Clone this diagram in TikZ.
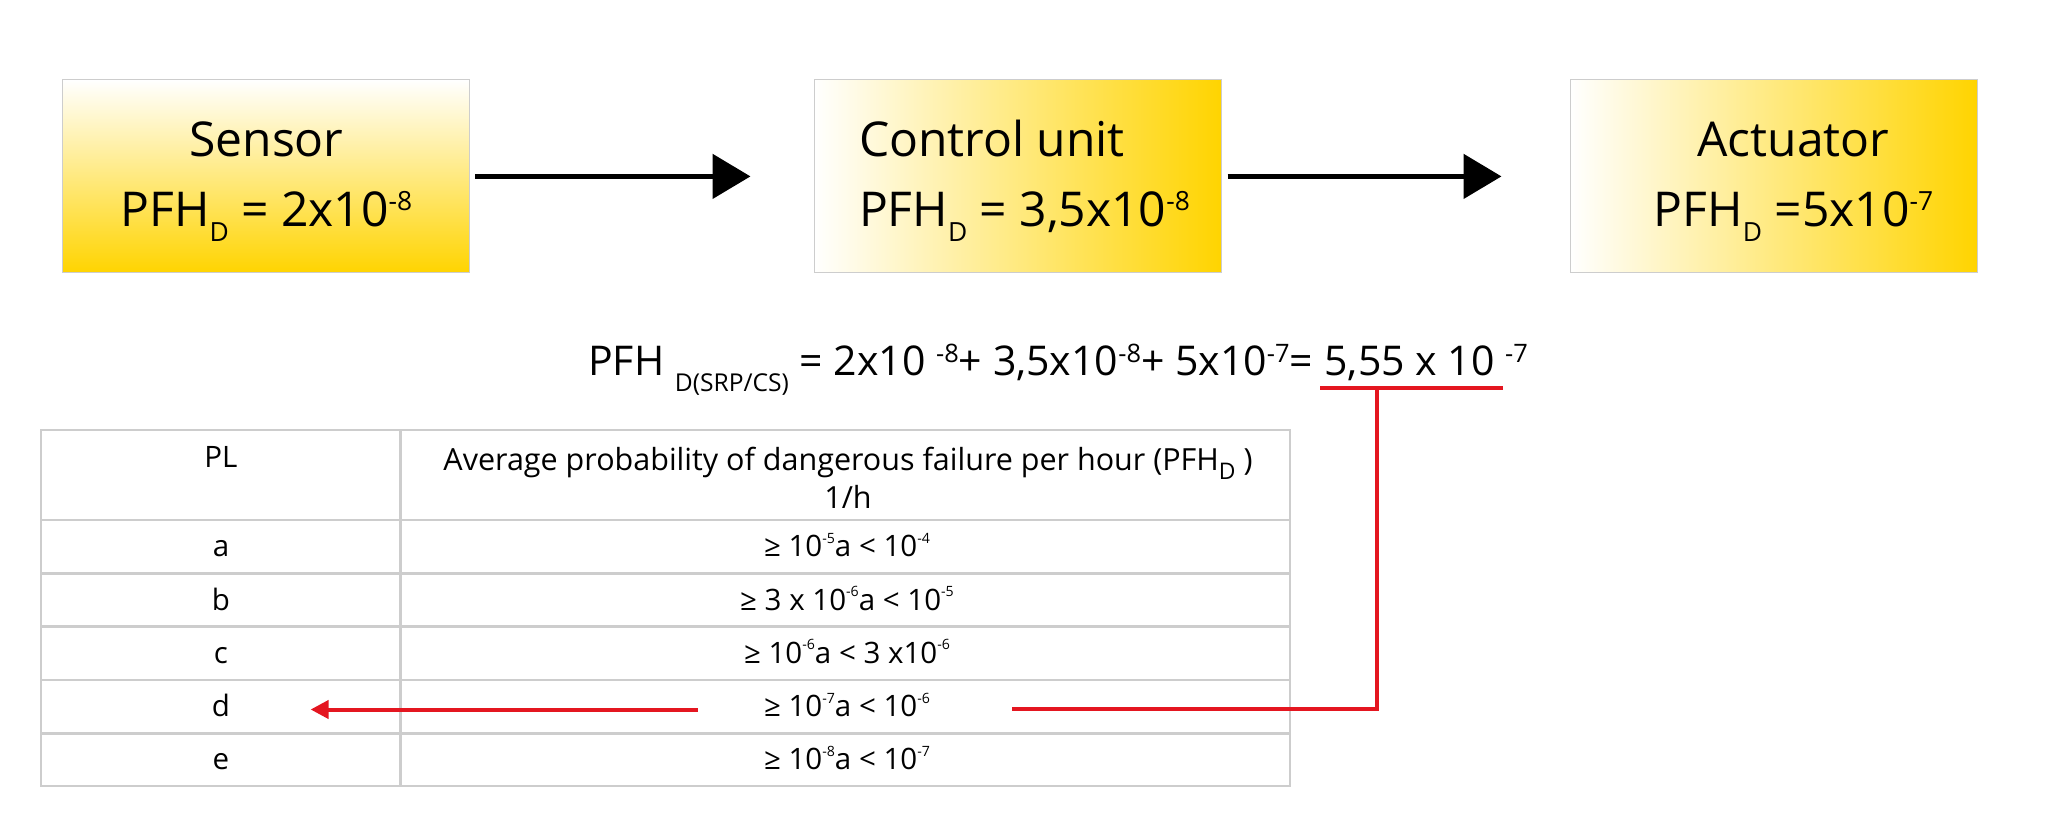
\documentclass[tikz,border=0pt]{standalone}
\usepackage{fontspec}
\setmainfont{Open Sans}
\usetikzlibrary{arrows.meta,positioning,calc}
\definecolor{gold}{RGB}{255,212,0}
\definecolor{alarm}{RGB}{228,22,32}
\definecolor{rule}{RGB}{205,205,205}
% raised and lowered indices, one pair per text size
\newcommand{\bup}[1]{\raisebox{.35em}{\scalebox{.55}{#1}}}
\newcommand{\bdn}[1]{\raisebox{-.31em}{\scalebox{.55}{#1}}}
\newcommand{\eup}[1]{\raisebox{.3em}{\scalebox{.62}{#1}}}
\newcommand{\edn}[1]{\raisebox{-.4em}{\scalebox{.6}{#1}}}
\newcommand{\tup}[1]{\raisebox{.46em}{\scalebox{.48}{#1}}}
\newcommand{\tdn}[1]{\raisebox{-.3em}{\scalebox{.75}{#1}}}

\begin{document}
\begin{tikzpicture}[x=1pt,y=-1pt,
	unit/.style={draw=rule, line width=1pt, minimum width=407pt, minimum height=193pt, inner sep=0pt, font=\fontsize{48}{70}\selectfont},
	flow/.style={line width=5pt, -{Triangle[length=38pt,width=44pt]}},
	link/.style={alarm, line width=4pt},
	grid/.style={rule, line width=2.5pt},
	cell/.style={anchor=base, inner sep=0pt, font=\fontsize{29.5}{38}\selectfont},
	eq/.style={anchor=base west, inner sep=0pt, font=\fontsize{41}{48}\selectfont}]
	
	\fill[white] (0,0) rectangle (2048,821);
	\useasboundingbox (0,0) rectangle (2048,821);
	
	%%% blocks
	\node[unit, top color=white, bottom color=gold, align=center] (sensor) at (266.4,176.4) {\rule{0pt}{46pt}Sensor\\PFH\bdn{D} = 2x10\bup{-8}};
	\node[unit, left color=white, right color=gold, align=left] (control) at (1017.5,176.4) {\rule{0pt}{46pt}\hspace*{14pt}Control unit\\\hspace*{14pt}PFH\bdn{D} = 3,5x10\bup{-8}};
	\node[unit, left color=white, right color=gold, align=center] (actuator) at (1773.5,176.4) {\rule{0pt}{46pt}\hspace*{40pt}Actuator\\\hspace*{40pt}PFH\bdn{D} =5x10\bup{-7}};
	
	\draw[flow, shorten <=5pt, shorten >=63pt] (sensor) -- (control);
	\draw[flow, shorten <=6pt, shorten >=68pt] (control) -- (actuator);
	
	%%% sum
	\node[eq] (formula) at (588,375) {PFH \edn{D(SRP/CS)} = 2x10 \eup{-8}+ 3,5x10\eup{-8}+ 5x10\eup{-7}=};
	\node[eq] (result) at ([xshift=11pt]formula.base east) {5,55 x 10 \eup{-7}};
	
	\coordinate (ul-a) at ([shift={(-4,13)}]result.base west);
	\coordinate (ul-b) at ([xshift=183pt]ul-a);
	\coordinate (hook) at (1012,709);
	\coordinate (ptr-a) at (697.7,709.5);
	\coordinate (ptr-b) at (310.6,709.5);
	
	%%% table
	\draw[grid] (40.8,430) rectangle (1290,786);
	\draw[grid] (400.5,430) -- (400.5,786);
	\foreach \y in {520,573.3,626.7,680,733.3}
		\draw[grid] (40.8,\y) -- (1290,\y);
	
	\node[cell] (pl-head) at (221,467.7) {PL};
	\node[cell, anchor=center, align=center, font=\fontsize{30.5}{38}\selectfont] (avg-head) at (848,478) {Average probability of dangerous failure per hour (PFH\tdn{D} )\\1/h};
	
	\foreach \pl/\val [count=\i from 0] in {a/{≥ 10\tup{-5}a < 10\tup{-4}},
			b/{≥ 3 x 10\tup{-6}a < 10\tup{-5}},
			c/{≥ 10\tup{-6}a < 3 x10\tup{-6}},
			d/{≥ 10\tup{-7}a < 10\tup{-6}},
			e/{≥ 10\tup{-8}a < 10\tup{-7}}}{
		\node[cell] (pl-\pl) at (221,556.7+53.3*\i) {\pl};
		\node[cell] (val-\pl) at (847,556.7+53.3*\i) {\val};
	}
	
	%%% red marks
	\draw[link] (ul-a) -- (ul-b);
	\draw[link] ($(ul-a)!.31!(ul-b)$) |- (hook);
	\draw[link, -{Triangle[length=18pt,width=18pt]}] (ptr-a) -- (ptr-b);
\end{tikzpicture}
\end{document}
